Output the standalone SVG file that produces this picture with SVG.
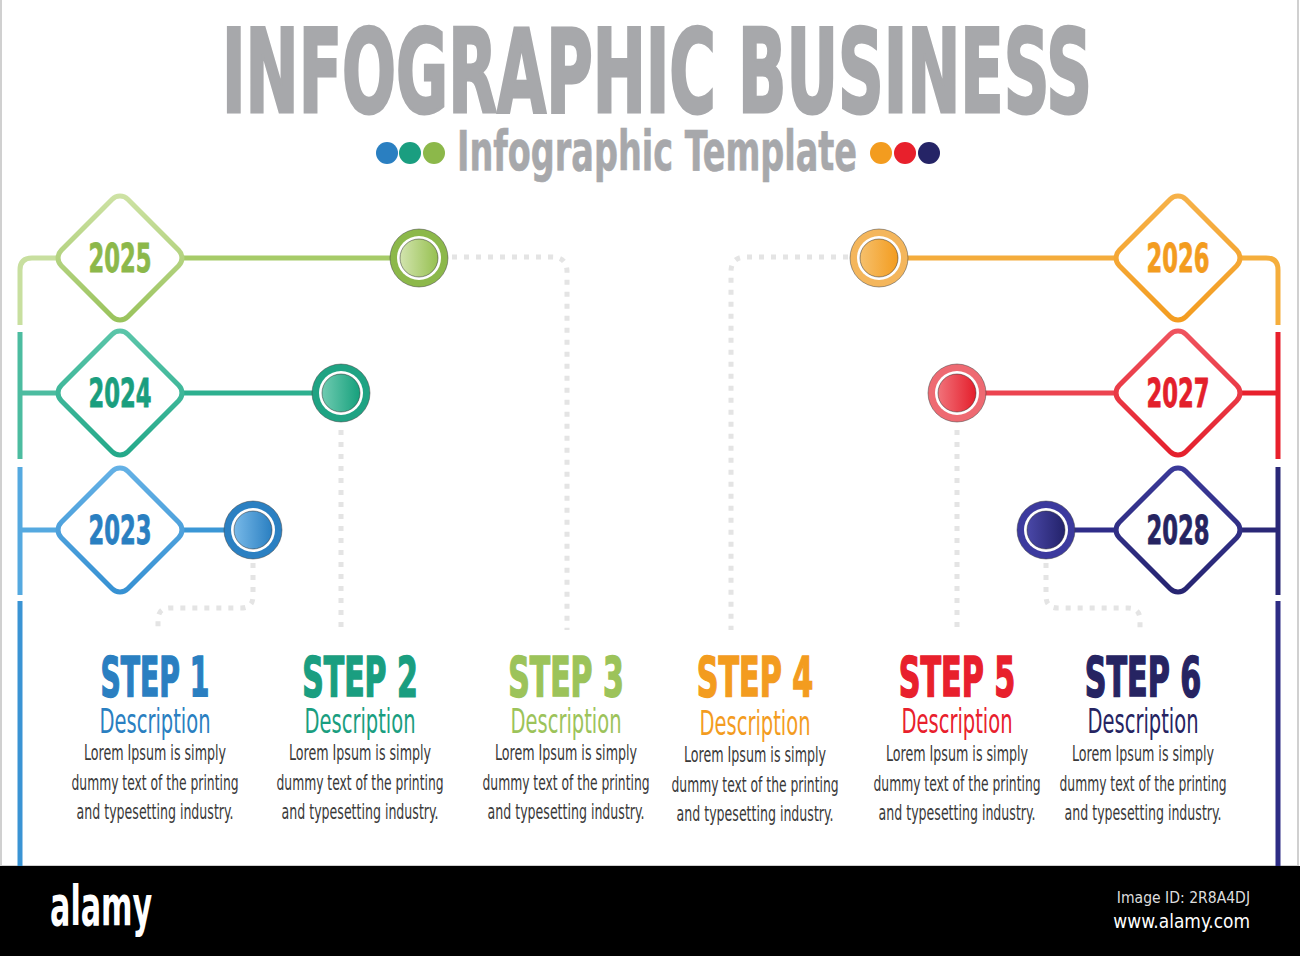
<svg xmlns="http://www.w3.org/2000/svg" width="1300" height="956" viewBox="0 0 1300 956">
<defs>
<style>
.cond{font-family:"Liberation Sans Narrow","DejaVu Sans Condensed","Liberation Sans",sans-serif;}
.title{font-weight:bold;fill:#a7a8ab;stroke:#a7a8ab;}
.year{font-weight:bold;font-size:39px;text-anchor:middle;stroke-width:0.8;}
.step{font-weight:bold;font-size:56px;text-anchor:middle;stroke-width:1.6;}
.desc{font-size:34px;text-anchor:middle;}
.body{font-size:21px;text-anchor:middle;fill:#3a3a3a;}
.dot{fill:none;stroke:#e4e4e4;stroke-width:5;stroke-dasharray:5 7;}
.side{fill:none;stroke-width:5;}
.link{fill:none;stroke-width:5;}
.dia{fill:#fff;stroke-width:5;}
.ring{stroke:#3a3a3a;stroke-width:0.8;stroke-opacity:0.6;}
.inner{stroke:#222;stroke-width:0.8;stroke-opacity:0.6;}
</style>
<linearGradient id="gGreen" x1="0" x2="1" y1="0" y2="0"><stop offset="0" stop-color="#d2e4ae"/><stop offset="1" stop-color="#96c050"/></linearGradient>
<linearGradient id="gTeal" x1="0" x2="1" y1="0" y2="0"><stop offset="0" stop-color="#6fcbb1"/><stop offset="1" stop-color="#16a07c"/></linearGradient>
<linearGradient id="gBlue" x1="0" x2="1" y1="0" y2="0"><stop offset="0" stop-color="#78b9e8"/><stop offset="1" stop-color="#2a7fc1"/></linearGradient>
<linearGradient id="gOrange" x1="0" x2="1" y1="0" y2="0"><stop offset="0" stop-color="#f6c06c"/><stop offset="1" stop-color="#f39c1f"/></linearGradient>
<linearGradient id="gRed" x1="0" x2="1" y1="0" y2="0"><stop offset="0" stop-color="#f1727a"/><stop offset="1" stop-color="#e41e2b"/></linearGradient>
<linearGradient id="gNavy" x1="0" x2="1" y1="0" y2="0"><stop offset="0" stop-color="#4a48a8"/><stop offset="1" stop-color="#23226a"/></linearGradient>
<linearGradient id="dGreen" x1="0" x2="1" y1="0" y2="1"><stop offset="0" stop-color="#cfe3a6"/><stop offset="1" stop-color="#98c25a"/></linearGradient>
<linearGradient id="dTeal" x1="0" x2="1" y1="0" y2="1"><stop offset="0" stop-color="#5cc6aa"/><stop offset="1" stop-color="#22a889"/></linearGradient>
<linearGradient id="dBlue" x1="0" x2="1" y1="0" y2="1"><stop offset="0" stop-color="#66b2e6"/><stop offset="1" stop-color="#3590d2"/></linearGradient>
<linearGradient id="dOrange" x1="0" x2="1" y1="0" y2="1"><stop offset="0" stop-color="#f6b24a"/><stop offset="1" stop-color="#f39c1f"/></linearGradient>
<linearGradient id="dRed" x1="0" x2="1" y1="0" y2="1"><stop offset="0" stop-color="#ef5560"/><stop offset="1" stop-color="#e41e2b"/></linearGradient>
<linearGradient id="dNavy" x1="0" x2="1" y1="0" y2="1"><stop offset="0" stop-color="#3b3a9a"/><stop offset="1" stop-color="#262470"/></linearGradient>
</defs>

<rect x="0" y="0" width="1300" height="956" fill="#ffffff"/>
<rect x="1" y="-2" width="1297" height="868" fill="none" stroke="#d0d0d0" stroke-width="2"/>

<g id="title">
<text class="cond title" transform="translate(222 112) scale(0.58 1)" x="0" y="0" font-size="116" stroke-width="3" textLength="1500" lengthAdjust="spacingAndGlyphs">INFOGRAPHIC BUSINESS</text>
<text class="cond title" transform="translate(457 170) scale(0.63 1)" x="0" y="0" font-size="55" stroke-width="0.6" textLength="635" lengthAdjust="spacingAndGlyphs">Infographic Template</text>
<circle cx="387" cy="153" r="11" fill="#2a7fc1"/>
<circle cx="410" cy="153" r="11" fill="#1a9e80"/>
<circle cx="434" cy="153" r="11" fill="#8cb84a"/>
<circle cx="881" cy="153" r="11" fill="#f39c1f"/>
<circle cx="905" cy="153" r="11" fill="#e8202c"/>
<circle cx="929" cy="153" r="11" fill="#252466"/>
</g>

<g id="connectors">
<path class="dot" d="M452 257 H552 Q567 257 567 272 V630"/>
<path class="dot" d="M848 257 H746 Q731 257 731 272 V630"/>
<path class="dot" d="M341 430 V630"/>
<path class="dot" d="M957 430 V630"/>
<path class="dot" d="M253 563 V596 Q253 608 241 608 H170 Q158 608 158 620 V630"/>
<path class="dot" d="M1046 563 V596 Q1046 608 1058 608 H1128 Q1140 608 1140 620 V630"/>
<path class="side" stroke="#c8df9f" d="M20 325 V270 Q20 258 32 258 H60"/>
<path class="side" stroke="#4cbca0" d="M20 332 V459 M20 393 H60"/>
<path class="side" stroke="#55a9e0" d="M20 467 V595 M20 530 H60"/>
<path class="side" stroke="#3a94d4" d="M20 601 V866"/>
<path class="side" stroke="#f5ae3c" d="M1278 325 V270 Q1278 258 1266 258 H1238"/>
<path class="side" stroke="#e8202c" d="M1278 332 V459 M1278 393 H1238"/>
<path class="side" stroke="#2a2877" d="M1278 467 V595 M1278 530 H1238"/>
<path class="side" stroke="#2e2d85" d="M1278 601 V866"/>
<path class="link" stroke="#a6cb68" d="M180 258 H419"/>
<path class="link" stroke="#2db08f" d="M180 393 H341"/>
<path class="link" stroke="#3b97d6" d="M180 530 H253"/>
<path class="link" stroke="#f4ac3c" d="M879 258 H1118"/>
<path class="link" stroke="#ec4450" d="M957 393 H1118"/>
<path class="link" stroke="#2f2d89" d="M1046 530 H1118"/>
</g>

<g id="node-2025">
<rect class="dia" x="73" y="211" width="94" height="94" rx="11" transform="rotate(45 120 258)" stroke="url(#dGreen)"/>
<text class="cond year" transform="translate(120 272) scale(0.65 1)" x="0" y="0" fill="#8cb84a" stroke="#8cb84a" textLength="97" lengthAdjust="spacingAndGlyphs">2025</text>
<circle class="ring" cx="419" cy="258" r="29" fill="#8cb84a"/>
<circle cx="419" cy="258" r="22" fill="#fff"/>
<circle class="inner" cx="419" cy="258" r="19" fill="url(#gGreen)"/>
</g>
<g id="node-2024">
<rect class="dia" x="73" y="346" width="94" height="94" rx="11" transform="rotate(45 120 393)" stroke="url(#dTeal)"/>
<text class="cond year" transform="translate(120 407) scale(0.65 1)" x="0" y="0" fill="#1a9e7e" stroke="#1a9e7e" textLength="97" lengthAdjust="spacingAndGlyphs">2024</text>
<circle class="ring" cx="341" cy="393" r="29" fill="#1fa383"/>
<circle cx="341" cy="393" r="22" fill="#fff"/>
<circle class="inner" cx="341" cy="393" r="19" fill="url(#gTeal)"/>
</g>
<g id="node-2023">
<rect class="dia" x="73" y="483" width="94" height="94" rx="11" transform="rotate(45 120 530)" stroke="url(#dBlue)"/>
<text class="cond year" transform="translate(120 544) scale(0.65 1)" x="0" y="0" fill="#2a7fc1" stroke="#2a7fc1" textLength="97" lengthAdjust="spacingAndGlyphs">2023</text>
<circle class="ring" cx="253" cy="530" r="29" fill="#2b80c2"/>
<circle cx="253" cy="530" r="22" fill="#fff"/>
<circle class="inner" cx="253" cy="530" r="19" fill="url(#gBlue)"/>
</g>
<g id="node-2026">
<rect class="dia" x="1131" y="211" width="94" height="94" rx="11" transform="rotate(45 1178 258)" stroke="url(#dOrange)"/>
<text class="cond year" transform="translate(1178 272) scale(0.65 1)" x="0" y="0" fill="#f39c1f" stroke="#f39c1f" textLength="97" lengthAdjust="spacingAndGlyphs">2026</text>
<circle class="ring" cx="879" cy="258" r="29" fill="#f4b65c"/>
<circle cx="879" cy="258" r="22" fill="#fff"/>
<circle class="inner" cx="879" cy="258" r="19" fill="url(#gOrange)"/>
</g>
<g id="node-2027">
<rect class="dia" x="1131" y="346" width="94" height="94" rx="11" transform="rotate(45 1178 393)" stroke="url(#dRed)"/>
<text class="cond year" transform="translate(1178 407) scale(0.65 1)" x="0" y="0" fill="#e3202b" stroke="#e3202b" textLength="97" lengthAdjust="spacingAndGlyphs">2027</text>
<circle class="ring" cx="957" cy="393" r="29" fill="#ee6a72"/>
<circle cx="957" cy="393" r="22" fill="#fff"/>
<circle class="inner" cx="957" cy="393" r="19" fill="url(#gRed)"/>
</g>
<g id="node-2028">
<rect class="dia" x="1131" y="483" width="94" height="94" rx="11" transform="rotate(45 1178 530)" stroke="url(#dNavy)"/>
<text class="cond year" transform="translate(1178 544) scale(0.65 1)" x="0" y="0" fill="#262461" stroke="#262461" textLength="97" lengthAdjust="spacingAndGlyphs">2028</text>
<circle class="ring" cx="1046" cy="530" r="29" fill="#3c3a9e"/>
<circle cx="1046" cy="530" r="22" fill="#fff"/>
<circle class="inner" cx="1046" cy="530" r="19" fill="url(#gNavy)"/>
</g>

<g id="step-1">
<text class="cond step" transform="translate(155 696) scale(0.55 1)" x="0" y="0" fill="#2a7fc1" stroke="#2a7fc1" textLength="198" lengthAdjust="spacingAndGlyphs">STEP 1</text>
<text class="cond desc" transform="translate(155 733) scale(0.6 1)" x="0" y="0" fill="#2a7fc1" textLength="185" lengthAdjust="spacingAndGlyphs">Description</text>
<text class="cond body" transform="translate(155 760) scale(0.64 1)" x="0" y="0" textLength="222" lengthAdjust="spacingAndGlyphs">Lorem Ipsum is simply</text>
<text class="cond body" transform="translate(155 790) scale(0.64 1)" x="0" y="0" textLength="261" lengthAdjust="spacingAndGlyphs">dummy text of the printing</text>
<text class="cond body" transform="translate(155 819) scale(0.64 1)" x="0" y="0" textLength="245" lengthAdjust="spacingAndGlyphs">and typesetting industry.</text>
</g>
<g id="step-2">
<text class="cond step" transform="translate(360 696) scale(0.55 1)" x="0" y="0" fill="#1a9e80" stroke="#1a9e80" textLength="210" lengthAdjust="spacingAndGlyphs">STEP 2</text>
<text class="cond desc" transform="translate(360 733) scale(0.6 1)" x="0" y="0" fill="#1a9e80" textLength="185" lengthAdjust="spacingAndGlyphs">Description</text>
<text class="cond body" transform="translate(360 760) scale(0.64 1)" x="0" y="0" textLength="222" lengthAdjust="spacingAndGlyphs">Lorem Ipsum is simply</text>
<text class="cond body" transform="translate(360 790) scale(0.64 1)" x="0" y="0" textLength="261" lengthAdjust="spacingAndGlyphs">dummy text of the printing</text>
<text class="cond body" transform="translate(360 819) scale(0.64 1)" x="0" y="0" textLength="245" lengthAdjust="spacingAndGlyphs">and typesetting industry.</text>
</g>
<g id="step-3">
<text class="cond step" transform="translate(566 696) scale(0.55 1)" x="0" y="0" fill="#9cc35a" stroke="#9cc35a" textLength="210" lengthAdjust="spacingAndGlyphs">STEP 3</text>
<text class="cond desc" transform="translate(566 733) scale(0.6 1)" x="0" y="0" fill="#9cc35a" textLength="185" lengthAdjust="spacingAndGlyphs">Description</text>
<text class="cond body" transform="translate(566 760) scale(0.64 1)" x="0" y="0" textLength="222" lengthAdjust="spacingAndGlyphs">Lorem Ipsum is simply</text>
<text class="cond body" transform="translate(566 790) scale(0.64 1)" x="0" y="0" textLength="261" lengthAdjust="spacingAndGlyphs">dummy text of the printing</text>
<text class="cond body" transform="translate(566 819) scale(0.64 1)" x="0" y="0" textLength="245" lengthAdjust="spacingAndGlyphs">and typesetting industry.</text>
</g>
<g id="step-4">
<text class="cond step" transform="translate(755 696) scale(0.55 1)" x="0" y="0" fill="#f39c1f" stroke="#f39c1f" textLength="212" lengthAdjust="spacingAndGlyphs">STEP 4</text>
<text class="cond desc" transform="translate(755 735) scale(0.6 1)" x="0" y="0" fill="#f39c1f" textLength="185" lengthAdjust="spacingAndGlyphs">Description</text>
<text class="cond body" transform="translate(755 762) scale(0.64 1)" x="0" y="0" textLength="222" lengthAdjust="spacingAndGlyphs">Lorem Ipsum is simply</text>
<text class="cond body" transform="translate(755 792) scale(0.64 1)" x="0" y="0" textLength="261" lengthAdjust="spacingAndGlyphs">dummy text of the printing</text>
<text class="cond body" transform="translate(755 821) scale(0.64 1)" x="0" y="0" textLength="245" lengthAdjust="spacingAndGlyphs">and typesetting industry.</text>
</g>
<g id="step-5">
<text class="cond step" transform="translate(957 696) scale(0.55 1)" x="0" y="0" fill="#e8202c" stroke="#e8202c" textLength="212" lengthAdjust="spacingAndGlyphs">STEP 5</text>
<text class="cond desc" transform="translate(957 733) scale(0.6 1)" x="0" y="0" fill="#e8202c" textLength="185" lengthAdjust="spacingAndGlyphs">Description</text>
<text class="cond body" transform="translate(957 761) scale(0.64 1)" x="0" y="0" textLength="222" lengthAdjust="spacingAndGlyphs">Lorem Ipsum is simply</text>
<text class="cond body" transform="translate(957 791) scale(0.64 1)" x="0" y="0" textLength="261" lengthAdjust="spacingAndGlyphs">dummy text of the printing</text>
<text class="cond body" transform="translate(957 820) scale(0.64 1)" x="0" y="0" textLength="245" lengthAdjust="spacingAndGlyphs">and typesetting industry.</text>
</g>
<g id="step-6">
<text class="cond step" transform="translate(1143 696) scale(0.55 1)" x="0" y="0" fill="#262462" stroke="#262462" textLength="212" lengthAdjust="spacingAndGlyphs">STEP 6</text>
<text class="cond desc" transform="translate(1143 733) scale(0.6 1)" x="0" y="0" fill="#262462" textLength="185" lengthAdjust="spacingAndGlyphs">Description</text>
<text class="cond body" transform="translate(1143 761) scale(0.64 1)" x="0" y="0" textLength="222" lengthAdjust="spacingAndGlyphs">Lorem Ipsum is simply</text>
<text class="cond body" transform="translate(1143 791) scale(0.64 1)" x="0" y="0" textLength="261" lengthAdjust="spacingAndGlyphs">dummy text of the printing</text>
<text class="cond body" transform="translate(1143 820) scale(0.64 1)" x="0" y="0" textLength="245" lengthAdjust="spacingAndGlyphs">and typesetting industry.</text>
</g>

<g id="footer">
<rect x="0" y="866" width="1300" height="90" fill="#000"/>
<text class="cond" transform="translate(50 925) scale(0.62 1)" x="0" y="0" font-size="56" font-weight="bold" fill="#fff" textLength="165" lengthAdjust="spacingAndGlyphs">alamy</text>
<text class="cond" transform="translate(1250 903) scale(0.9 1)" x="0" y="0" font-size="16" fill="#ddd" text-anchor="end" textLength="148" lengthAdjust="spacingAndGlyphs">Image ID: 2R8A4DJ</text>
<text class="cond" transform="translate(1250 928) scale(0.93 1)" x="0" y="0" font-size="19" fill="#fff" text-anchor="end" textLength="147" lengthAdjust="spacingAndGlyphs">www.alamy.com</text>
</g>
</svg>
